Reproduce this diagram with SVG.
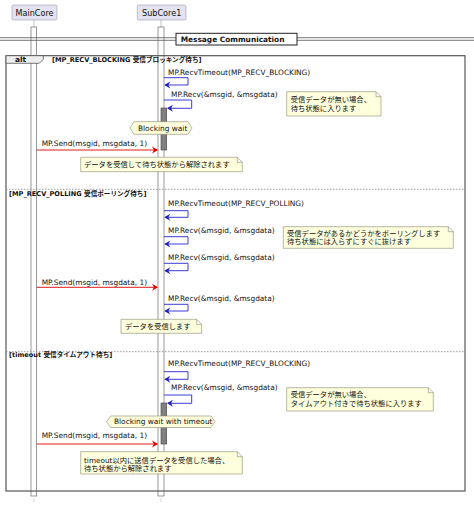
<svg xmlns="http://www.w3.org/2000/svg" width="474" height="505" viewBox="0 0 474 505">
<style>
text{font-family:"DejaVu Sans","Noto Sans CJK JP",sans-serif;fill:#111}
.pt{font-size:8.1px;text-anchor:middle}
.m{font-size:7.4px}
.b{font-weight:bold;font-size:6.6px}
.n{font-size:7.3px}
.pbox{fill:#E2E2F0;stroke:#9A9AB0;stroke-width:0.6}
.life{fill:#fff;stroke:#555;stroke-width:0.6}
.act{fill:#808080;stroke:#444;stroke-width:0.6}
.note{fill:#FEFFDD;stroke:#8A8A70;stroke-width:0.6}
.self{fill:none;stroke:#2626D0;stroke-width:0.9}
.ah{fill:#1E1EC8}
.send{stroke:#E00000;stroke-width:0.9}
.rh{fill:#E00000}
.dot{stroke:#888;stroke-width:0.8;stroke-dasharray:1.5,1.5}
</style>
<g id="participants">
<g id="MainCore">
<rect class="pbox" x="12" y="5" width="45" height="15" rx="1.5"/>
<text class="pt" x="34.5" y="15.5">MainCore</text>
<line x1="34" y1="20" x2="34" y2="27" stroke="#888" stroke-width="0.5"/>
<rect class="life" x="31" y="27" width="5.7" height="469"/>
<line x1="34" y1="498" x2="34" y2="502" stroke="#aaa" stroke-width="0.5"/>
</g>
<g id="SubCore1">
<rect class="pbox" x="137.3" y="5" width="48.7" height="15" rx="1.5"/>
<text class="pt" x="161.7" y="15.5">SubCore1</text>
<line x1="161" y1="20" x2="161" y2="27" stroke="#888" stroke-width="0.5"/>
<rect class="life" x="158" y="27" width="6" height="469"/>
<line x1="161" y1="498" x2="161" y2="502" stroke="#aaa" stroke-width="0.5"/>
<rect class="act" x="161" y="108" width="5.7" height="42"/>
<rect class="act" x="161" y="403" width="5.7" height="41"/>
</g>
</g>
<g id="separator">
<line x1="0" y1="37.7" x2="474" y2="37.7" stroke="#555" stroke-width="0.8"/>
<line x1="0" y1="40.3" x2="474" y2="40.3" stroke="#555" stroke-width="0.8"/>
<rect x="176" y="33.3" width="121" height="11.7" fill="#fff" stroke="#222" stroke-width="1"/>
<text x="180.7" y="41.8" style="font-weight:bold;font-size:7.4px">Message Communication</text>
</g>
<g id="alt-frame">
<rect x="6" y="55.7" width="459" height="435.3" fill="none" stroke="#555" stroke-width="1.2"/>
<path d="M6,55.7 H43.3 V59.3 L39.3,63.3 H6 Z" fill="#EEE" stroke="#555" stroke-width="0.8"/>
<text x="15" y="61.7" style="font-weight:bold;font-size:7.4px">alt</text>
<text class="b" x="52" y="62.3">[MP_RECV_BLOCKING 受信ブロッキング待ち]</text>
<line class="dot" x1="6" y1="189.3" x2="465" y2="189.3"/>
<text class="b" x="9" y="196">[MP_RECV_POLLING 受信ポーリング待ち]</text>
<line class="dot" x1="6" y1="351.7" x2="465" y2="351.7"/>
<text class="b" x="9" y="357.3">[timeout 受信タイムアウト待ち]</text>
</g>
<g id="connectors">
<path class="self" d="M164,77.7 H188 V85 H165"/>
<polygon class="ah" points="164.3,85 170.3,81.5 168.3,85 170.3,88.5"/>
<text class="m" x="168" y="75">MP.RecvTimeout(MP_RECV_BLOCKING)</text>
<path class="self" d="M164,100 H191.7 V108.3 H168"/>
<polygon class="ah" points="167,108.3 173,104.8 171,108.3 173,111.8"/>
<text class="m" x="171" y="96.7">MP.Recv(&amp;msgid, &amp;msgdata)</text>
<line class="send" x1="36.7" y1="150" x2="157" y2="150"/>
<polygon class="rh" points="158,150 152,146.5 154,150 152,153.5"/>
<text class="m" x="41.7" y="145.7">MP.Send(msgid, msgdata, 1)</text>

<path class="self" d="M164,210.7 H188 V217.3 H165"/>
<polygon class="ah" points="164.3,217.3 170.3,213.8 168.3,217.3 170.3,220.8"/>
<text class="m" x="168" y="206">MP.RecvTimeout(MP_RECV_POLLING)</text>
<path class="self" d="M164,236.7 H188 V244 H165"/>
<polygon class="ah" points="164.3,244 170.3,240.5 168.3,244 170.3,247.5"/>
<text class="m" x="168" y="233.3">MP.Recv(&amp;msgid, &amp;msgdata)</text>
<path class="self" d="M164,263.3 H188 V270.7 H165"/>
<polygon class="ah" points="164.3,270.7 170.3,267.2 168.3,270.7 170.3,274.2"/>
<text class="m" x="168" y="260">MP.Recv(&amp;msgid, &amp;msgdata)</text>
<line class="send" x1="36.7" y1="287.3" x2="157" y2="287.3"/>
<polygon class="rh" points="158,287.3 152,283.8 154,287.3 152,290.8"/>
<text class="m" x="41.7" y="285">MP.Send(msgid, msgdata, 1)</text>
<path class="self" d="M164,304.3 H188 V311 H165"/>
<polygon class="ah" points="164.3,311 170.3,307.5 168.3,311 170.3,314.5"/>
<text class="m" x="168" y="300.7">MP.Recv(&amp;msgid, &amp;msgdata)</text>

<path class="self" d="M164,371.7 H188 V379.3 H165"/>
<polygon class="ah" points="164.3,379.3 170.3,375.8 168.3,379.3 170.3,382.8"/>
<text class="m" x="168" y="366">MP.RecvTimeout(MP_RECV_BLOCKING)</text>
<path class="self" d="M164,395 H191.7 V403.3 H168"/>
<polygon class="ah" points="167,403.3 173,399.8 171,403.3 173,406.8"/>
<text class="m" x="171" y="390">MP.Recv(&amp;msgid, &amp;msgdata)</text>
<line class="send" x1="36.7" y1="444" x2="157" y2="444"/>
<polygon class="rh" points="158,444 152,440.5 154,444 152,447.5"/>
<text class="m" x="41.7" y="438.3">MP.Send(msgid, msgdata, 1)</text>
</g>
<g id="note1">
<path class="note" d="M286.7,91.7 H376 L381,96.7 V116 H286.7 Z M376,91.7 V96.7 H381"/>
<text class="n" x="290.7" y="102">受信データが無い場合、</text>
<text class="n" x="290.7" y="111">待ち状態に入ります</text>
</g>
<g id="wait1">
<polygon class="note" points="130,128 134,121.7 188,121.7 192,128 188,134.3 134,134.3"/>
<text class="m" x="138" y="130.5">Blocking wait</text>
</g>
<g id="note2">
<path class="note" d="M80.7,157.3 H237.3 L242.3,162.3 V171.7 H80.7 Z M237.3,157.3 V162.3 H242.3"/>
<text class="n" x="84" y="167">データを受信して待ち状態から解除されます</text>
</g>
<g id="note3">
<path class="note" d="M283.3,226.7 H448.3 L453.3,231.7 V248.3 H283.3 Z M448.3,226.7 V231.7 H453.3"/>
<text class="n" x="287" y="235.5">受信データがあるかどうかをポーリングします</text>
<text class="n" x="287" y="244">待ち状態には入らずにすぐに抜けます</text>
</g>
<g id="note4">
<path class="note" d="M121,319.3 H196.7 L201.7,324.3 V333.3 H121 Z M196.7,319.3 V324.3 H201.7"/>
<text class="n" x="125" y="329">データを受信します</text>
</g>
<g id="note5">
<path class="note" d="M286.7,387.7 H428.3 L433.3,392.7 V411 H286.7 Z M428.3,387.7 V392.7 H433.3"/>
<text class="n" x="290.7" y="396.5">受信データが無い場合、</text>
<text class="n" x="290.7" y="405.5">タイムアウト付きで待ち状態に入ります</text>
</g>
<g id="wait2">
<polygon class="note" points="106.7,421.7 110.7,416 211,416 215,421.7 211,427.5 110.7,427.5"/>
<text class="m" x="114" y="424.3">Blocking wait with timeout</text>
</g>
<g id="note6">
<path class="note" d="M80.7,451.7 H237.3 L242.3,456.7 V474 H80.7 Z M237.3,451.7 V456.7 H242.3"/>
<text class="n" x="84" y="462.5">timeout以内に送信データを受信した場合、</text>
<text class="n" x="84" y="471">待ち状態から解除されます</text>
</g>
</svg>
